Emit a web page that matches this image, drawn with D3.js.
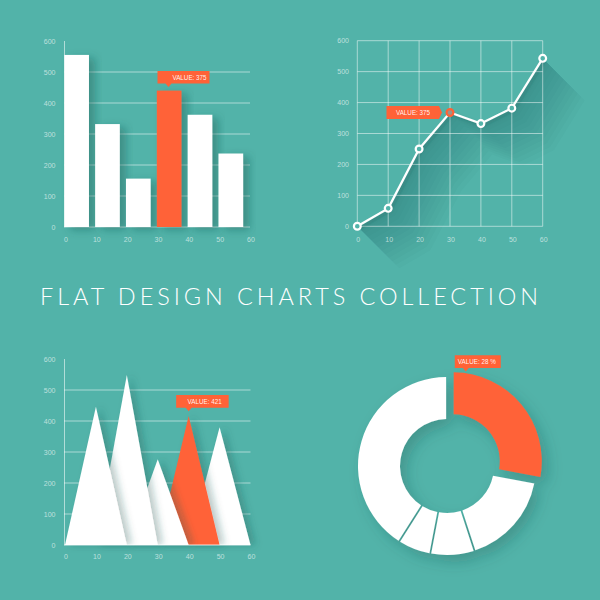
<!DOCTYPE html>
<html><head><meta charset="utf-8">
<script src="https://cdn.jsdelivr.net/npm/d3@7/dist/d3.min.js"></script>
<style>html,body{margin:0;padding:0;background:#52b3a9;}svg{display:block;}</style>
</head><body>
<script>
// ---- data ----
const xTicks = [0, 10, 20, 30, 40, 50, 60];
const yTicks = [0, 100, 200, 300, 400, 500, 600];
const barX = [0, 10, 20, 30, 40, 50];
const barValues = [555, 332, 156, 440, 362, 237];
const barHighlight = 3;
const barLabel = "VALUE: 375";
const lineX = [0, 10, 20, 30, 40, 50, 60];
const lineValues = [0, 58, 250, 368, 332, 382, 543];
const lineHighlight = 3;
const lineLabel = "VALUE: 375";
const peakX = [10, 20, 30, 40, 50];
const peakValues = [446, 548, 277, 416, 380];
const peakHighlight = 3;
const peakLabel = "VALUE: 421";
const donutValues = [28, 17, 8, 6, 41];
const donutHighlight = 0;
const donutLabel = "VALUE: 28 %";
const title = "FLAT DESIGN CHARTS COLLECTION";

const BG = "#52b3a9", ORANGE = "#ff6237", TICK = "rgba(255,255,255,0.62)";
const W = 600, H = 600;
const svg = d3.select("body").append("svg").attr("width", W).attr("height", H);
svg.append("rect").attr("width", W).attr("height", H).attr("fill", BG);

const defs = svg.append("defs");
function shadow(id, dx, dy, sd, op) {
  const f = defs.append("filter").attr("id", id).attr("x", "-50%").attr("y", "-50%").attr("width", "200%").attr("height", "200%");
  f.append("feDropShadow").attr("dx", dx).attr("dy", dy).attr("stdDeviation", sd)
    .attr("flood-color", "#17574f").attr("flood-opacity", op);
}
shadow("barShadow", 6, 3, 4, 0.4);
shadow("triShadow", 5, 0, 3.5, 0.3);
shadow("donutShadow", 6, 7, 7, 0.3);
shadow("dotShadow", 2, 2, 1.5, 0.25);

function tickText(g, x, y, yLeft, xBase) {
  g.selectAll(".yt").data(yTicks).join("text")
    .attr("x", yLeft).attr("y", d => y(d) + 2.5).attr("text-anchor", "end")
    .attr("font-family", "Liberation Sans, Arial, sans-serif").attr("font-size", 7).attr("fill", TICK).text(d => d);
  g.selectAll(".xt").data(xTicks).join("text")
    .attr("x", d => x(d) + 1).attr("y", xBase).attr("text-anchor", "middle")
    .attr("font-family", "Liberation Sans, Arial, sans-serif").attr("font-size", 7).attr("fill", TICK).text(d => d);
}
function tooltip(g, x0, x1, y0, y1, text, tx, pointer) {
  let path;
  if (pointer.dir === "down") {
    path = `M${x0},${y0}H${x1}V${y1}H${pointer.at + 3}L${pointer.at},${y1 + 3.5}L${pointer.at - 3},${y1}H${x0}Z`;
  } else {
    const my = (y0 + y1) / 2;
    path = `M${x0},${y0}H${x1}L${x1 + 3},${my}L${x1},${y1}H${x0}Z`;
  }
  g.append("path").attr("d", path).attr("fill", ORANGE);
  g.append("text").attr("x", tx).attr("y", (y0 + y1) / 2 + 2.3).attr("text-anchor", "middle")
    .attr("font-family", "Liberation Sans, Arial, sans-serif").attr("font-size", 6.3)
    .attr("fill", "rgba(255,255,255,0.92)").text(text);
}

// ---- Chart 1: bars ----
{
  const g = svg.append("g");
  const x = d3.scaleLinear().domain([0, 60]).range([65, 250]);
  const y = d3.scaleLinear().domain([0, 600]).range([227, 41]);
  g.selectAll(".grid").data(yTicks.filter(d => d > 0 && d < 600)).join("line")
    .attr("x1", 64).attr("x2", x(60)).attr("y1", d => y(d)).attr("y2", d => y(d))
    .attr("stroke", "rgba(255,255,255,0.35)").attr("stroke-width", 1.3);
  g.append("line").attr("x1", 64.5).attr("x2", 64.5).attr("y1", y(600)).attr("y2", y(0))
    .attr("stroke", "rgba(255,255,255,0.55)").attr("stroke-width", 1);
  g.append("line").attr("x1", 64).attr("x2", x(60)).attr("y1", y(0)).attr("y2", y(0))
    .attr("stroke", "rgba(255,255,255,0.6)").attr("stroke-width", 1);
  g.selectAll(".bar").data(barValues).join("rect")
    .attr("x", (d, i) => x(barX[i]) - 0.7).attr("width", x(8) - x(0))
    .attr("y", d => y(d)).attr("height", d => y(0) - y(d))
    .attr("fill", (d, i) => i === barHighlight ? ORANGE : "#ffffff")
    .attr("filter", "url(#barShadow)");
  tickText(g, x, y, 55.5, 241.5);
  const hx = x(barX[barHighlight]), hy = y(barValues[barHighlight]);
  tooltip(g, hx, hx + 52, hy - 19.5, hy - 7, barLabel, hx + 32, { dir: "down", at: hx + 11 });
}

// ---- Chart 2: line ----
{
  const g = svg.append("g");
  const x = d3.scaleLinear().domain([0, 60]).range([357.3, 542.7]);
  const y = d3.scaleLinear().domain([0, 600]).range([226.3, 40.7]);
  const pts = lineValues.map((v, i) => [x(lineX[i]), y(v)]);
  // layered long shadow, darker close to the line
  const layers = d3.range(1, 13).map(k => k * 3.5);
  g.selectAll(".ls").data(layers).join("path")
    .attr("d", L => {
      const poly = pts.concat(pts.slice().reverse().map(p => [p[0] + L, p[1] + L]));
      return "M" + poly.map(p => p.join(",")).join("L") + "Z";
    })
    .attr("fill", "#1c5f58").attr("fill-opacity", 0.03);
  g.selectAll(".vg").data(xTicks).join("line")
    .attr("x1", d => x(d)).attr("x2", d => x(d)).attr("y1", y(600)).attr("y2", y(0))
    .attr("stroke", "rgba(255,255,255,0.5)").attr("stroke-width", 1);
  g.selectAll(".hg").data(yTicks).join("line")
    .attr("x1", x(0)).attr("x2", x(60)).attr("y1", d => y(d)).attr("y2", d => y(d))
    .attr("stroke", "rgba(255,255,255,0.5)").attr("stroke-width", 1);
  g.append("path").attr("d", d3.line()(pts)).attr("fill", "none")
    .attr("stroke", "#ffffff").attr("stroke-width", 2.2).attr("filter", "url(#dotShadow)");
  g.selectAll(".dot").data(pts).join("circle")
    .attr("cx", d => d[0]).attr("cy", d => d[1]).attr("r", 3.4)
    .attr("fill", (d, i) => i === lineHighlight ? "#9c948a" : BG)
    .attr("stroke", (d, i) => i === lineHighlight ? ORANGE : "#ffffff").attr("stroke-width", 2.2);
  tickText(g, x, y, 349, 241.5);
  const hx = pts[lineHighlight][0], hy = pts[lineHighlight][1];
  tooltip(g, hx - 63.5, hx - 11, hy - 6.5, hy + 6.5, lineLabel, hx - 37, { dir: "right" });
}

// ---- Title ----
svg.append("text").attr("x", 40).attr("y", 305)
  .attr("font-family", "Lato, 'Open Sans', sans-serif").attr("font-weight", 300)
  .attr("font-size", 23.5).attr("fill", "#ffffff")
  .attr("textLength", 498).attr("lengthAdjust", "spacing").text(title);

// ---- Chart 3: peaks ----
{
  const g = svg.append("g");
  const x = d3.scaleLinear().domain([0, 60]).range([65, 250.5]);
  const y = d3.scaleLinear().domain([0, 600]).range([545, 359]);
  g.selectAll(".grid").data(yTicks.filter(d => d > 0 && d < 600)).join("line")
    .attr("x1", 64).attr("x2", x(60)).attr("y1", d => y(d)).attr("y2", d => y(d))
    .attr("stroke", "rgba(255,255,255,0.35)").attr("stroke-width", 1.3);
  g.append("line").attr("x1", 64.5).attr("x2", 64.5).attr("y1", y(600)).attr("y2", y(0))
    .attr("stroke", "rgba(255,255,255,0.55)").attr("stroke-width", 1);
  const order = peakValues.map((d, i) => i).reverse();
  g.selectAll(".tri").data(order).join("path")
    .attr("d", i => {
      const c = peakX[i];
      return `M${x(c - 10)},${y(0)}L${x(c)},${y(peakValues[i])}L${x(c + 10)},${y(0)}Z`;
    })
    .attr("fill", i => i === peakHighlight ? ORANGE : "#ffffff")
    .attr("filter", "url(#triShadow)");
  g.append("line").attr("x1", 64).attr("x2", x(60)).attr("y1", y(0)).attr("y2", y(0))
    .attr("stroke", "rgba(255,255,255,0.8)").attr("stroke-width", 1);
  tickText(g, x, y, 55.5, 559);
  const hx = x(peakX[peakHighlight]), hy = y(peakValues[peakHighlight]);
  tooltip(g, hx - 12.5, hx + 40, hy - 21, hy - 8.3, peakLabel, hx + 16, { dir: "down", at: hx });
}

// ---- Chart 4: donut ----
{
  const cx = 447, cy = 466;
  const g = svg.append("g").attr("transform", `translate(${cx},${cy})`);
  const pie = d3.pie().sort(null).value(d => d)(donutValues);
  const arc = d3.arc().innerRadius(47).outerRadius(89).padAngle(0.018);
  const sg = g.append("g").attr("filter", "url(#donutShadow)");
  sg.selectAll("path").data(pie).join("path")
    .attr("d", arc)
    .attr("transform", (d, i) => {
      if (i !== donutHighlight) return null;
      const a = (d.startAngle + d.endAngle) / 2;
      return `translate(${Math.sin(a) * 7.5},${-Math.cos(a) * 7.5})`;
    })
    .attr("fill", (d, i) => i === donutHighlight ? ORANGE : "#ffffff");
  const d0 = pie[donutHighlight];
  const a0 = (d0.startAngle + d0.endAngle) / 2;
  const tipX = Math.sin(d0.startAngle) * 89 + Math.sin(a0) * 7.5 + 13;
  const tipY = -89 - Math.cos(a0) * 7.5;
  tooltip(g, tipX - 11, tipX + 35, tipY - 17, tipY - 4.3, donutLabel, tipX + 11, { dir: "down", at: tipX });
}
</script>
</body></html>
